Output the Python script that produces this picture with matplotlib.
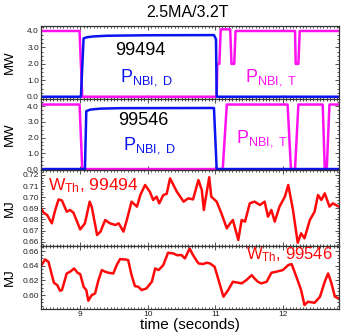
import matplotlib
matplotlib.use('Agg')
import matplotlib.pyplot as plt
from matplotlib.ticker import MultipleLocator, FormatStrFormatter

plt.rcParams['font.family'] = ['Liberation Sans', 'DejaVu Sans']
plt.rcParams['mathtext.fontset'] = 'custom'
plt.rcParams['mathtext.rm'] = 'Liberation Sans'
plt.rcParams['mathtext.it'] = 'Liberation Sans'

# --- shot 99494, NBI power (MW)
t_d1 = [8.42, 9.01, 9.05, 9.10, 9.20, 9.40, 10.00, 10.98, 11.01, 11.02, 12.83]
p_d1 = [0.0, 0.0, 3.55, 3.62, 3.67, 3.71, 3.74, 3.75, 3.50, 0.0, 0.0]
t_t1 = [8.42, 8.99, 9.03, 11.02, 11.03, 11.06, 11.08, 11.22, 11.24, 11.28, 11.30,
        12.18, 12.19, 12.23, 12.25, 12.83]
p_t1 = [4.0, 4.0, 0.0, 0.0, 2.0, 2.0, 4.1, 4.1, 2.0, 2.0, 4.0,
        4.0, 2.0, 2.0, 4.0, 4.0]

# --- shot 99546, NBI power (MW)
t_d2 = [8.42, 9.07, 9.09, 9.15, 9.30, 9.60, 10.98, 11.02, 12.83]
p_d2 = [0.0, 0.0, 3.68, 3.78, 3.84, 3.87, 3.88, 0.0, 0.0]
t_t2 = [8.42, 8.99, 9.03, 11.11, 11.17, 12.07, 12.12, 12.18, 12.23, 12.59, 12.62,
        12.65, 12.69, 12.83]
p_t2 = [4.1, 4.1, 0.0, 0.0, 4.1, 4.1, 0.0, 0.0, 4.1, 4.1, 0.0,
        0.0, 4.1, 4.1]

# --- thermal energy 99494 (MJ)
t_w1 = [8.42, 8.46, 8.51, 8.58, 8.63, 8.68, 8.73, 8.80, 8.85, 8.90, 9.00, 9.07,
        9.14, 9.17, 9.25, 9.30, 9.37, 9.44, 9.52, 9.57, 9.64, 9.69, 9.76, 9.84,
        9.89, 9.96, 10.03, 10.08, 10.13, 10.17, 10.23, 10.28, 10.33, 10.38, 10.43,
        10.53, 10.60, 10.67, 10.75, 10.80, 10.83, 10.87, 10.91, 10.94, 11.02,
        11.09, 11.17, 11.22, 11.26, 11.34, 11.39, 11.44, 11.51, 11.58, 11.66,
        11.73, 11.78, 11.83, 11.88, 11.95, 12.03, 12.08, 12.15, 12.22, 12.27,
        12.32, 12.40, 12.47, 12.52, 12.57, 12.62, 12.69, 12.74, 12.83]
w1 = [0.690, 0.686, 0.684, 0.6765, 0.6885, 0.698, 0.697, 0.687, 0.6885, 0.686,
      0.671, 0.6765, 0.696, 0.6915, 0.666, 0.669, 0.6795, 0.6765, 0.675, 0.6765,
      0.669, 0.6795, 0.696, 0.6915, 0.702, 0.711, 0.705, 0.6975, 0.7005, 0.6945,
      0.702, 0.703, 0.717, 0.711, 0.705, 0.696, 0.699, 0.698, 0.7155, 0.7065,
      0.6885, 0.7035, 0.718, 0.7005, 0.696, 0.6855, 0.672, 0.6765, 0.6795,
      0.6615, 0.6795, 0.678, 0.6945, 0.696, 0.693, 0.696, 0.6825, 0.6885, 0.678,
      0.6915, 0.7005, 0.711, 0.6885, 0.659, 0.6675, 0.663, 0.6795, 0.687, 0.702,
      0.6975, 0.7035, 0.6915, 0.6945, 0.6915]

# --- thermal energy 99546 (MJ)
t_w2 = [8.42, 8.48, 8.53, 8.61, 8.66, 8.70, 8.73, 8.80, 8.85, 8.91, 8.96, 9.00,
        9.05, 9.09, 9.12, 9.17, 9.22, 9.27, 9.32, 9.37, 9.42, 9.49, 9.54, 9.59,
        9.66, 9.71, 9.76, 9.81, 9.86, 9.91, 9.98, 10.06, 10.11, 10.16, 10.23,
        10.30, 10.38, 10.43, 10.50, 10.55, 10.62, 10.67, 10.75, 10.82, 10.87,
        10.92, 10.99, 11.07, 11.12, 11.19, 11.26, 11.34, 11.39, 11.46, 11.54,
        11.58, 11.63, 11.68, 11.76, 11.83, 11.90, 12.00, 12.08, 12.13, 12.20,
        12.27, 12.32, 12.37, 12.47, 12.55, 12.62, 12.67, 12.72, 12.77, 12.83]
w2 = [0.6395, 0.6486, 0.6454, 0.6168, 0.6136, 0.6059, 0.6068, 0.6295, 0.6318,
      0.6363, 0.6304, 0.6286, 0.6113, 0.6068, 0.5922, 0.5999, 0.6022, 0.6204,
      0.6341, 0.6318, 0.6304, 0.6295, 0.6409, 0.6491, 0.6486, 0.6477, 0.6272,
      0.6122, 0.6113, 0.6068, 0.6090, 0.6181, 0.6363, 0.6341, 0.6409, 0.6577,
      0.6568, 0.6545, 0.6545, 0.6500, 0.6636, 0.6545, 0.6432, 0.6423, 0.6441,
      0.6432, 0.6386, 0.6136, 0.5977, 0.6068, 0.6181, 0.6168, 0.6159, 0.6204,
      0.6272, 0.6227, 0.6181, 0.6159, 0.6181, 0.6304, 0.6318, 0.6341, 0.6409,
      0.6423, 0.6250, 0.6068, 0.5863, 0.5908, 0.5895, 0.5977, 0.6181, 0.6295,
      0.6159, 0.5977, 0.5954]

xticks = [9, 10, 11, 12]

BLUE = '#0a14f0'
MAG = '#ff10f0'
RED = '#ff0a0a'

fig = plt.figure(figsize=(3.42, 3.34), dpi=100)
gs = fig.add_gridspec(4, 1, height_ratios=[73, 71, 76, 63], hspace=0,
                      left=0.12, right=0.991, top=0.922, bottom=0.075)
axs = [fig.add_subplot(gs[i]) for i in range(4)]

axs[0].plot(t_t1, p_t1, color=MAG, lw=1.8)
axs[0].plot(t_d1, p_d1, color=BLUE, lw=1.8)
axs[1].plot(t_t2, p_t2, color=MAG, lw=1.8)
axs[1].plot(t_d2, p_d2, color=BLUE, lw=1.8)
axs[2].plot(t_w1, w1, color=RED, lw=1.8)
axs[3].plot(t_w2, w2, color=RED, lw=1.8)

axs[0].set_ylim(-0.14, 4.3)
axs[1].set_ylim(-0.06, 4.45)
axs[2].set_ylim(0.6561, 0.7245)
axs[3].set_ylim(0.581, 0.667)

for ax in axs[:2]:
    ax.yaxis.set_major_locator(MultipleLocator(1.0))
    ax.yaxis.set_minor_locator(MultipleLocator(0.25))
    ax.yaxis.set_major_formatter(FormatStrFormatter('%.1f'))
    ax.set_ylabel('MW', fontsize=9.5)
axs[2].yaxis.set_major_locator(MultipleLocator(0.01))
axs[2].yaxis.set_minor_locator(MultipleLocator(0.0025))
axs[3].yaxis.set_major_locator(MultipleLocator(0.02))
axs[3].yaxis.set_minor_locator(MultipleLocator(0.005))
for ax in axs[2:]:
    ax.yaxis.set_major_formatter(FormatStrFormatter('%.2f'))
    ax.set_ylabel('MJ', fontsize=9.5)

for i, ax in enumerate(axs):
    ax.set_xlim(8.42, 12.83)
    ax.set_xticks(xticks)
    ax.xaxis.set_minor_locator(MultipleLocator(0.05))
    ax.tick_params(which='both', direction='in', top=True, right=True,
                   labelsize=6, pad=1.5, width=0.6, colors='#333333',
                   labelcolor='#222222')
    ax.tick_params(which='major', length=3)
    ax.tick_params(which='minor', length=1.5)
    ax.yaxis.set_label_coords(-0.085, 0.5)
    for s in ax.spines.values():
        s.set_linewidth(0.9)
        s.set_color('#333333')
    if i < 3:
        ax.tick_params(labelbottom=False)

axs[3].set_xlabel('time (seconds)', fontsize=11, labelpad=0)

fig.text(0.547, 0.962, '2.5MA/3.2T', ha='center', va='center', fontsize=11.5)

axs[0].text(0.332, 0.67, '99494', transform=axs[0].transAxes,
            ha='center', va='center', fontsize=13)
axs[0].text(0.265, 0.30, r'P$_{\mathrm{NBI,\ D}}$', transform=axs[0].transAxes,
            ha='left', va='center', fontsize=13, color=BLUE)
axs[0].text(0.685, 0.30, r'P$_{\mathrm{NBI,\ T}}$', transform=axs[0].transAxes,
            ha='left', va='center', fontsize=13, color=MAG)

axs[1].text(0.342, 0.70, '99546', transform=axs[1].transAxes,
            ha='center', va='center', fontsize=13)
axs[1].text(0.275, 0.35, r'P$_{\mathrm{NBI,\ D}}$', transform=axs[1].transAxes,
            ha='left', va='center', fontsize=13, color=BLUE)
axs[1].text(0.654, 0.45, r'P$_{\mathrm{NBI,\ T}}$', transform=axs[1].transAxes,
            ha='left', va='center', fontsize=13, color=MAG)

axs[2].text(0.023, 0.80, r'W$_{\mathrm{Th}}$, 99494', transform=axs[2].transAxes,
            ha='left', va='center', fontsize=12.5, color=RED)
axs[3].text(0.688, 0.857, r'W$_{\mathrm{Th}}$, 99546', transform=axs[3].transAxes,
            ha='left', va='center', fontsize=12, color=RED)

fig.savefig('out.png', dpi=100)
